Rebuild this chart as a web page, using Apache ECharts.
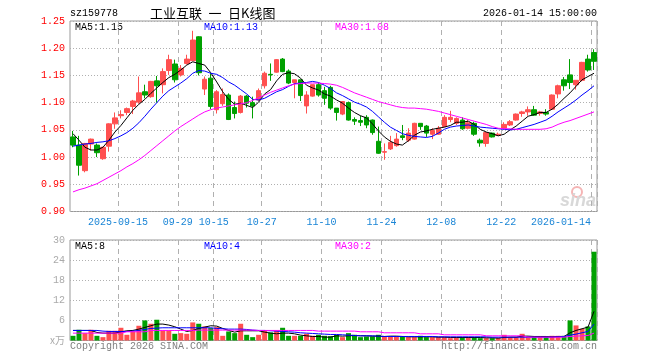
<!DOCTYPE html>
<html><head><meta charset="utf-8">
<script src="https://cdn.jsdelivr.net/npm/echarts@6/dist/echarts.min.js"></script>
<style>html,body{margin:0;padding:0;background:#fff}#c{width:660px;height:360px}</style>
</head><body><div id="c"></div>
<script>
const dates = ['2025-09-03','2025-09-04','2025-09-05','2025-09-08','2025-09-09','2025-09-10','2025-09-11','2025-09-12','2025-09-15','2025-09-16','2025-09-17','2025-09-18','2025-09-19','2025-09-22','2025-09-23','2025-09-24','2025-09-25','2025-09-26','2025-09-29','2025-09-30','2025-10-09','2025-10-10','2025-10-13','2025-10-14','2025-10-15','2025-10-16','2025-10-17','2025-10-20','2025-10-21','2025-10-22','2025-10-23','2025-10-24','2025-10-27','2025-10-28','2025-10-29','2025-10-30','2025-10-31','2025-11-03','2025-11-04','2025-11-05','2025-11-06','2025-11-07','2025-11-10','2025-11-11','2025-11-12','2025-11-13','2025-11-14','2025-11-17','2025-11-18','2025-11-19','2025-11-20','2025-11-21','2025-11-24','2025-11-25','2025-11-26','2025-11-27','2025-11-28','2025-12-01','2025-12-02','2025-12-03','2025-12-04','2025-12-05','2025-12-08','2025-12-09','2025-12-10','2025-12-11','2025-12-12','2025-12-15','2025-12-16','2025-12-17','2025-12-18','2025-12-19','2025-12-22','2025-12-23','2025-12-24','2025-12-25','2025-12-26','2025-12-29','2025-12-30','2025-12-31','2026-01-05','2026-01-06','2026-01-07','2026-01-08','2026-01-09','2026-01-12','2026-01-13','2026-01-14'];
const open  = [1.037,1.022,0.975,1.024,1.022,0.997,1.020,1.061,1.076,1.082,1.093,1.101,1.120,1.111,1.140,1.133,1.159,1.171,1.151,1.172,1.177,1.221,1.125,1.145,1.087,1.098,1.114,1.091,1.082,1.112,1.100,1.105,1.131,1.152,1.156,1.180,1.158,1.137,1.142,1.094,1.112,1.133,1.122,1.128,1.090,1.079,1.100,1.069,1.067,1.073,1.068,1.029,1.009,1.015,1.021,1.039,1.031,1.033,1.062,1.057,1.042,1.042,1.056,1.069,1.062,1.068,1.053,1.062,1.031,1.025,1.044,1.040,1.053,1.059,1.068,1.080,1.083,1.087,1.080,1.082,1.088,1.116,1.142,1.151,1.133,1.141,1.180,1.192];
const close = [1.022,0.985,1.025,1.033,1.008,1.018,1.061,1.072,1.078,1.089,1.103,1.118,1.114,1.139,1.131,1.157,1.179,1.142,1.163,1.180,1.215,1.155,1.143,1.093,1.120,1.115,1.069,1.080,1.112,1.099,1.094,1.122,1.154,1.151,1.179,1.157,1.136,1.142,1.113,1.114,1.133,1.114,1.108,1.090,1.082,1.102,1.068,1.066,1.064,1.059,1.045,1.007,1.010,1.027,1.033,1.036,1.044,1.062,1.056,1.044,1.049,1.053,1.073,1.073,1.071,1.052,1.063,1.042,1.026,1.045,1.037,1.042,1.060,1.065,1.079,1.083,1.087,1.077,1.083,1.079,1.114,1.131,1.131,1.137,1.141,1.174,1.160,1.176];
const low   = [1.018,0.966,0.972,1.012,1.000,0.995,1.010,1.052,1.071,1.077,1.079,1.098,1.108,1.109,1.100,1.117,1.151,1.137,1.148,1.170,1.177,1.150,1.114,1.088,1.080,1.094,1.068,1.071,1.080,1.091,1.071,1.103,1.126,1.140,1.155,1.156,1.134,1.108,1.103,1.080,1.111,1.111,1.096,1.087,1.067,1.077,1.067,1.059,1.057,1.053,1.041,1.006,0.995,1.013,1.019,1.031,1.028,1.032,1.050,1.037,1.033,1.041,1.055,1.064,1.059,1.050,1.051,1.039,1.019,1.019,1.036,1.039,1.051,1.057,1.067,1.074,1.076,1.076,1.076,1.076,1.087,1.108,1.122,1.125,1.124,1.139,1.157,1.160];
const high  = [1.048,1.039,1.026,1.034,1.025,1.019,1.062,1.082,1.086,1.091,1.105,1.148,1.133,1.140,1.149,1.163,1.188,1.179,1.169,1.188,1.232,1.222,1.148,1.154,1.123,1.126,1.117,1.102,1.114,1.114,1.111,1.126,1.157,1.172,1.180,1.182,1.161,1.142,1.142,1.121,1.133,1.137,1.129,1.131,1.090,1.103,1.102,1.073,1.076,1.077,1.069,1.056,1.025,1.039,1.044,1.059,1.053,1.063,1.062,1.059,1.053,1.057,1.077,1.085,1.073,1.073,1.068,1.065,1.034,1.047,1.045,1.045,1.064,1.068,1.080,1.085,1.093,1.094,1.085,1.088,1.115,1.133,1.147,1.180,1.141,1.175,1.188,1.198];
const ma5   = [1.043,1.031,1.018,1.013,1.013,1.018,1.031,1.046,1.058,1.072,1.086,1.097,1.106,1.117,1.127,1.137,1.146,1.152,1.160,1.169,1.175,1.172,1.169,1.155,1.138,1.120,1.106,1.097,1.099,1.095,1.091,1.101,1.116,1.124,1.140,1.152,1.155,1.153,1.145,1.132,1.127,1.123,1.116,1.112,1.105,1.099,1.090,1.082,1.076,1.072,1.061,1.048,1.037,1.029,1.024,1.022,1.030,1.040,1.046,1.048,1.051,1.053,1.055,1.058,1.064,1.064,1.066,1.060,1.051,1.046,1.043,1.039,1.042,1.050,1.057,1.066,1.075,1.078,1.082,1.082,1.088,1.097,1.108,1.118,1.130,1.142,1.148,1.154];
const ma10  = [1.020,1.022,1.024,1.025,1.027,1.028,1.030,1.034,1.039,1.045,1.053,1.063,1.075,1.088,1.100,1.112,1.122,1.129,1.136,1.144,1.154,1.159,1.158,1.154,1.152,1.146,1.138,1.132,1.124,1.116,1.106,1.105,1.108,1.114,1.120,1.124,1.130,1.135,1.136,1.137,1.139,1.137,1.132,1.126,1.118,1.113,1.107,1.101,1.097,1.092,1.084,1.074,1.064,1.055,1.049,1.043,1.040,1.038,1.037,1.036,1.038,1.044,1.051,1.055,1.057,1.058,1.059,1.057,1.055,1.054,1.053,1.052,1.051,1.050,1.051,1.054,1.057,1.060,1.064,1.068,1.075,1.083,1.090,1.097,1.105,1.114,1.122,1.131];
const ma30  = [0.936,0.940,0.943,0.947,0.951,0.957,0.963,0.969,0.975,0.982,0.988,0.995,1.003,1.012,1.021,1.030,1.039,1.048,1.056,1.063,1.070,1.077,1.083,1.087,1.090,1.092,1.094,1.096,1.098,1.100,1.104,1.109,1.114,1.119,1.123,1.127,1.131,1.134,1.135,1.136,1.136,1.136,1.135,1.134,1.132,1.128,1.123,1.118,1.114,1.110,1.106,1.102,1.099,1.096,1.093,1.091,1.090,1.090,1.089,1.088,1.086,1.084,1.081,1.078,1.075,1.072,1.069,1.066,1.063,1.060,1.056,1.053,1.052,1.052,1.051,1.051,1.051,1.051,1.051,1.052,1.055,1.060,1.064,1.067,1.071,1.075,1.079,1.083];
const volume = [1.4,3.2,2.2,3.2,1.4,1.0,2.9,2.9,3.8,1.7,2.7,4.4,6.0,5.0,6.2,3.0,3.0,2.0,2.2,2.0,5.4,5.0,4.2,3.7,4.0,1.4,2.7,2.2,5.0,1.7,1.0,1.7,3.0,2.4,3.0,3.8,1.4,1.4,1.4,2.0,1.4,1.7,1.4,1.3,1.7,1.0,2.2,1.7,1.0,1.2,1.2,1.7,1.2,1.2,1.2,1.2,1.0,1.0,1.4,1.0,1.0,1.0,1.0,0.7,0.9,1.0,1.0,1.0,0.7,0.7,0.7,0.7,1.7,1.0,1.0,2.0,1.0,1.0,1.0,1.0,1.4,1.4,1.4,6.0,4.5,3.5,4.2,26.5];
const volMa5  = [3.0,3.0,3.0,3.0,2.4,2.2,2.2,2.2,2.6,2.9,3.0,3.4,3.9,4.4,4.9,4.9,4.6,4.1,3.4,2.7,3.0,3.6,4.0,4.4,4.3,3.6,3.0,2.5,2.9,2.9,2.9,2.9,2.5,2.2,2.0,2.2,2.2,2.0,1.6,1.4,1.2,1.2,1.0,1.0,1.4,1.3,1.4,1.5,1.4,1.4,1.3,1.3,1.2,1.3,1.3,1.2,1.1,1.1,1.1,1.1,1.1,1.0,1.0,0.9,0.9,0.9,0.9,0.9,0.9,0.8,0.8,0.7,0.9,1.0,1.0,1.3,1.3,1.2,1.2,1.2,1.1,1.2,1.2,2.3,3.0,3.5,4.0,8.7];
const volMa10 = [3.0,3.0,3.0,3.0,3.0,2.8,2.7,2.7,2.7,2.7,2.8,3.0,3.3,3.6,3.7,3.8,3.8,3.8,3.8,3.8,3.8,3.8,3.8,3.8,3.6,3.5,3.4,3.4,3.4,3.3,3.1,3.0,3.0,2.9,2.8,2.7,2.6,2.5,2.3,2.2,2.1,2.0,1.9,1.8,1.8,1.7,1.6,1.5,1.4,1.4,1.4,1.3,1.2,1.2,1.2,1.2,1.2,1.2,1.2,1.2,1.2,1.1,1.1,1.1,1.1,1.1,1.1,1.1,1.1,1.1,1.0,1.0,1.0,1.0,1.0,1.0,1.0,1.0,1.0,1.0,1.0,1.1,1.2,1.6,1.9,2.3,2.7,4.9];
const volMa30 = [2.2,2.2,2.2,2.2,2.2,2.2,2.2,2.2,2.2,2.6,2.6,2.6,2.6,3.0,3.0,3.0,3.0,3.0,3.0,3.0,3.0,3.1,3.1,3.1,3.1,3.1,3.1,3.1,3.1,3.1,3.1,3.0,3.0,3.0,3.0,3.0,3.0,3.0,3.0,3.0,3.0,2.8,2.8,2.8,2.8,2.8,2.8,2.8,2.6,2.6,2.6,2.6,2.3,2.3,2.3,2.3,2.3,2.3,2.0,2.0,2.0,2.0,1.7,1.7,1.7,1.7,1.7,1.7,1.7,1.4,1.4,1.4,1.4,1.4,1.4,1.4,1.0,1.0,1.0,1.0,1.0,1.0,1.0,1.2,1.3,1.4,1.5,2.2];
const labelDates = ['2025-09-15','2025-09-29','2025-10-15','2025-10-27','2025-11-10','2025-11-24','2025-12-08','2025-12-22','2026-01-14'];
const priceTicks = {min:0.90, max:1.25, step:0.05};
const volTicks = {min:0, max:30, step:6};

const UP = '#ff5050', DOWN = '#00a000';
const mono = "'Liberation Mono','DejaVu Sans Mono',monospace";
const labelSet = new Set(labelDates.map(d => dates.indexOf(d)));
const chart = echarts.init(document.getElementById('c'), null, {renderer:'canvas'});
const vSplit = {show:true, interval:(i)=>labelSet.has(i), lineStyle:{color:'#b0b0b0', type:[5,4], width:1}};
const hSplit = {show:true, lineStyle:{color:'#b0b0b0', type:[1,2], width:1}};
function trunc2(v){ return (Math.floor(v*100+1e-9)/100).toFixed(2); }
function txt(t, x, y, fill, align, font){
  return {type:'text', silent:true, style:{text:t, x:x, y:y, fill:fill, align:align||'left', verticalAlign:'middle', font:font||('10px ' + mono)}};
}
const option = {
  animation:false,
  backgroundColor:'#fff',
  grid:[
    {left:70, top:21, width:527, height:190.5, show:true, borderColor:'#999', borderWidth:1, backgroundColor:'transparent'},
    {left:70, top:240, width:527, height:100.5, show:true, borderColor:'#999', borderWidth:1, backgroundColor:'transparent'}
  ],
  xAxis:[
    {type:'category', gridIndex:0, data:dates, boundaryGap:true, axisLine:{show:false}, axisTick:{show:false},
     axisLabel:{interval:(i)=>labelSet.has(i), color:'#1a85d6', fontFamily:mono, fontSize:10, margin:6,
       formatter:(v)=>{
         if (v === labelDates[labelDates.length-1]) return '{r|' + v + '}';
         if (v === labelDates[0]) return '{c|' + v + '}';
         return '{c|' + v.slice(5) + '}';
       },
       rich:{c:{padding:[0,6,0,0], color:'#1a85d6', fontFamily:mono, fontSize:10}, r:{padding:[0,66,0,0], color:'#1a85d6', fontFamily:mono, fontSize:10}}},
     splitLine:vSplit},
    {type:'category', gridIndex:1, data:dates, boundaryGap:true, axisLine:{show:false}, axisTick:{show:false},
     axisLabel:{show:false}, splitLine:vSplit}
  ],
  yAxis:[
    {type:'value', gridIndex:0, min:priceTicks.min, max:priceTicks.max, interval:priceTicks.step,
     axisLine:{show:false}, axisTick:{show:false},
     axisLabel:{color:'#ff0000', fontFamily:mono, fontSize:10, margin:5, formatter:(v)=>v.toFixed(2)},
     splitLine:hSplit},
    {type:'value', gridIndex:1, min:volTicks.min, max:volTicks.max, interval:volTicks.step,
     axisLine:{show:false}, axisTick:{show:false},
     axisLabel:{color:'#aaaaaa', fontFamily:mono, fontSize:10, margin:5, showMinLabel:false},
     splitLine:hSplit}
  ],
  series:[
    {type:'candlestick', xAxisIndex:0, yAxisIndex:0, barWidth:5,
     data:dates.map((d,i)=>[open[i], close[i], low[i], high[i]]),
     itemStyle:{color:UP, color0:DOWN, borderColor:UP, borderColor0:DOWN, borderWidth:1}},
    {type:'line', xAxisIndex:0, yAxisIndex:0, data:ma5, symbol:'none', lineStyle:{color:'#000000', width:1}},
    {type:'line', xAxisIndex:0, yAxisIndex:0, data:ma10, symbol:'none', lineStyle:{color:'#0000ff', width:1}},
    {type:'line', xAxisIndex:0, yAxisIndex:0, data:ma30, symbol:'none', lineStyle:{color:'#ff00ff', width:1}},
    {type:'bar', xAxisIndex:1, yAxisIndex:1, barWidth:5,
     data:volume.map((v,i)=>({value:v, itemStyle:{color: close[i] >= open[i] ? UP : DOWN}}))},
    {type:'line', xAxisIndex:1, yAxisIndex:1, data:volMa5, symbol:'none', lineStyle:{color:'#000000', width:1}},
    {type:'line', xAxisIndex:1, yAxisIndex:1, data:volMa10, symbol:'none', lineStyle:{color:'#0000ff', width:1}},
    {type:'line', xAxisIndex:1, yAxisIndex:1, data:volMa30, symbol:'none', lineStyle:{color:'#ff00ff', width:1}}
  ],
  graphic:[
    txt('sz159778', 70, 13, '#000'),
    txt('工业互联\u2002一\u2002日K线图', 150, 13, '#000', 'left', "13px 'Noto Sans CJK SC'"),
    txt('2026-01-14 15:00:00', 597, 13, '#000', 'right'),
    txt('MA5:' + trunc2(ma5[ma5.length-1]), 75, 27, '#000'),
    txt('MA10:' + trunc2(ma10[ma10.length-1]), 204, 27, '#0000ff'),
    txt('MA30:' + trunc2(ma30[ma30.length-1]), 335, 27, '#ff00ff'),
    txt('MA5:' + Math.floor(volMa5[volMa5.length-1]), 75, 246, '#000'),
    txt('MA10:' + Math.floor(volMa10[volMa10.length-1]), 204, 246, '#0000ff'),
    txt('MA30:' + Math.floor(volMa30[volMa30.length-1]), 335, 246, '#ff00ff'),
    txt('x万', 65, 340, '#aaaaaa', 'right', "10px 'Noto Sans CJK SC'"),
    txt('Copyright 2026 SINA.COM', 70, 346, '#808080'),
    txt('http://finance.sina.com.cn', 597, 346, '#808080', 'right'),
    {type:'circle', silent:true, shape:{cx:577, cy:192, r:5}, style:{fill:'none', stroke:'#f5b5b5', lineWidth:2}},
    txt('sina', 596, 201, '#d8d8d8', 'right', "italic bold 18px 'Liberation Sans'")
  ]
};
chart.setOption(option);
</script>
</body></html>
